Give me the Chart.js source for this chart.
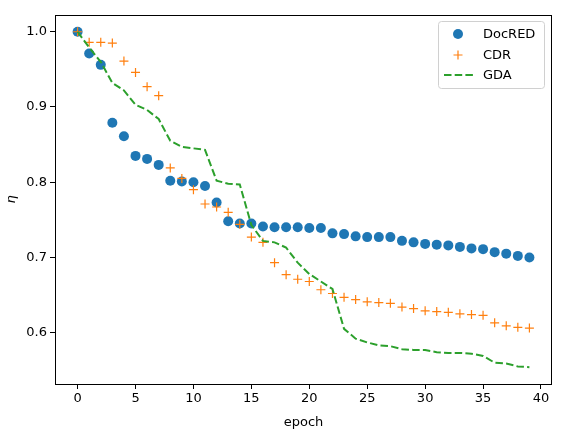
<!DOCTYPE html>
<html>
<head>
<meta charset="utf-8">
<script src="https://cdn.jsdelivr.net/npm/chart.js@4"></script>
<style>
  html, body { margin: 0; padding: 0; background: #fff; }
  #wrap { width: 564px; height: 434px; }
</style>
</head>
<body>
<div id="wrap"><canvas id="chart" width="564" height="434"></canvas></div>
<script>
var epochs = [0, 1, 2, 3, 4, 5, 6, 7, 8, 9, 10, 11, 12, 13, 14, 15, 16, 17, 18, 19,
              20, 21, 22, 23, 24, 25, 26, 27, 28, 29, 30, 31, 32, 33, 34, 35, 36, 37, 38, 39];
var docred = [1.0, 0.971, 0.956, 0.879, 0.861, 0.835, 0.831, 0.823, 0.802, 0.801,
              0.800, 0.795, 0.773, 0.748, 0.745, 0.745, 0.741, 0.740, 0.740, 0.740,
              0.739, 0.739, 0.732, 0.731, 0.728, 0.727, 0.727, 0.727, 0.722, 0.720,
              0.718, 0.717, 0.716, 0.714, 0.712, 0.711, 0.707, 0.705, 0.702, 0.700];
var cdr = [1.0, 0.986, 0.986, 0.985, 0.961, 0.946, 0.927, 0.915, 0.819, 0.805,
           0.790, 0.771, 0.767, 0.760, 0.744, 0.727, 0.720, 0.693, 0.677, 0.671,
           0.668, 0.657, 0.652, 0.647, 0.644, 0.641, 0.640, 0.639, 0.634, 0.632,
           0.629, 0.628, 0.627, 0.625, 0.624, 0.623, 0.613, 0.609, 0.607, 0.606];
var gda = [1.0, 0.979, 0.960, 0.932, 0.922, 0.903, 0.896, 0.884, 0.855, 0.847,
           0.845, 0.843, 0.802, 0.798, 0.797, 0.743, 0.722, 0.720, 0.713, 0.693,
           0.678, 0.668, 0.658, 0.605, 0.592, 0.587, 0.583, 0.582, 0.578, 0.577,
           0.577, 0.574, 0.573, 0.573, 0.572, 0.569, 0.560, 0.559, 0.555, 0.554];
var seriesNames = ['DocRED', 'CDR', 'GDA'];
var xTicks = [0, 5, 10, 15, 20, 25, 30, 35, 40];
var yTicks = [0.6, 0.7, 0.8, 0.9, 1.0];

function pts(vals) {
    return epochs.map(function (e, i) { return { x: e, y: vals[i] }; });
}

var FONT = 'DejaVu Sans';

// box round the plot and a matplotlib style legend
var framePlugin = {
    id: 'frame',
    afterDraw: function (chart) {
        var c = chart.ctx, a = chart.chartArea;
        c.save();
        c.strokeStyle = '#000';
        c.lineWidth = 1;
        c.strokeRect(Math.round(a.left) + 0.5, Math.round(a.top) + 0.5,
                     Math.round(a.right - a.left) - 1, Math.round(a.bottom - a.top));

        var lx = 438, ly = 21, lw = 106, lh = 67;
        c.fillStyle = 'rgba(255,255,255,0.8)';
        c.strokeStyle = '#d0d0d0';
        c.beginPath();
        c.roundRect(lx + 0.5, ly + 0.5, lw, lh, 3);
        c.fill();
        c.stroke();

        var ds = chart.data.datasets;
        c.font = '13px ' + FONT;
        c.textBaseline = 'middle';
        c.fillStyle = '#000';
        var rows = [34, 55, 75];
        for (var i = 0; i < ds.length; i++) {
            var y = rows[i];
            var mx = 458;
            if (i === 0) {
                c.fillStyle = ds[0].backgroundColor;
                c.beginPath();
                c.arc(mx, y, 5, 0, Math.PI * 2);
                c.fill();
            } else if (i === 1) {
                c.strokeStyle = ds[1].borderColor;
                c.lineWidth = 1.2;
                c.beginPath();
                c.moveTo(mx - 4.5, y); c.lineTo(mx + 4.5, y);
                c.moveTo(mx, y - 4.5); c.lineTo(mx, y + 4.5);
                c.stroke();
            } else {
                c.strokeStyle = ds[2].borderColor;
                c.lineWidth = 2;
                c.setLineDash([7.5, 3.2]);
                c.beginPath();
                c.moveTo(444, y); c.lineTo(473, y);
                c.stroke();
                c.setLineDash([]);
            }
            c.fillStyle = '#000';
            c.fillText(ds[i].label, 483, y + 1);
        }
        c.restore();
    }
};

var ctx = document.getElementById('chart').getContext('2d');
var myChart = new Chart(ctx, {
    type: 'scatter',
    data: {
        datasets: [
            {
                label: seriesNames[0],
                data: pts(docred),
                showLine: false,
                pointStyle: 'circle',
                pointRadius: 5,
                borderWidth: 0,
                backgroundColor: '#1f77b4',
                borderColor: '#1f77b4',
                order: 2
            },
            {
                label: seriesNames[1],
                data: pts(cdr),
                showLine: false,
                pointStyle: 'cross',
                pointRadius: 4.5,
                pointBorderWidth: 1.2,
                backgroundColor: '#ff7f0e',
                borderColor: '#ff7f0e',
                order: 1
            },
            {
                label: seriesNames[2],
                data: pts(gda),
                showLine: true,
                pointRadius: 0,
                borderWidth: 2,
                borderDash: [7.5, 3.2],
                borderColor: '#2ca02c',
                backgroundColor: '#2ca02c',
                tension: 0,
                order: 0
            }
        ]
    },
    options: {
        responsive: false,
        animation: false,
        layout: { padding: { left: 0, right: 12, top: 15, bottom: 0 } },
        plugins: {
            legend: { display: false },
            tooltip: { enabled: false }
        },
        scales: {
            x: {
                type: 'linear',
                min: -1.95,
                max: 40.95,
                afterBuildTicks: function (s) { s.ticks = xTicks.map(function (v) { return { value: v }; }); },
                afterFit: function (s) { s.height = 50; },
                grid: { drawOnChartArea: false, drawTicks: true, tickLength: 5, color: '#000' },
                border: { display: false },
                ticks: { color: '#000', font: { family: FONT, size: 13 }, padding: 2, maxRotation: 0 },
                title: { display: true, text: 'epoch', color: '#000', font: { family: FONT, size: 13 }, padding: { top: 0 } }
            },
            y: {
                type: 'linear',
                min: 0.5317,
                max: 1.0223,
                afterBuildTicks: function (s) { s.ticks = yTicks.map(function (v) { return { value: v }; }); },
                afterFit: function (s) { s.width = 55; },
                grid: { drawOnChartArea: false, drawTicks: true, tickLength: 5, color: '#000' },
                border: { display: false },
                ticks: {
                    color: '#000', font: { family: FONT, size: 13 }, padding: 3,
                    callback: function (v) { return v.toFixed(1); }
                },
                title: { display: true, text: 'η', color: '#000', font: { family: FONT, size: 13, style: 'italic' }, padding: { bottom: 0 } }
            }
        }
    },
    plugins: [framePlugin]
});
</script>
</body>
</html>
